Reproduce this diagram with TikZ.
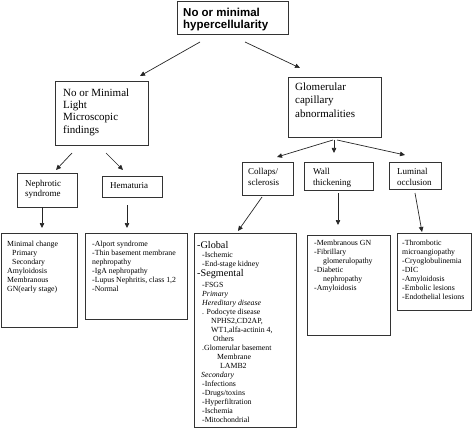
\documentclass[tikz,border=0pt]{standalone}
\usepackage{fontspec}
\setmainfont{Liberation Serif}
\newfontfamily\headsans{Liberation Sans}
\usetikzlibrary{arrows.meta}
\begin{document}
\begin{tikzpicture}[x=1pt,y=-1pt,
  box/.style={draw=black!80, line width=0.8pt, inner sep=0pt, anchor=north west},
  txt/.style={inner sep=0pt, anchor=north west, align=left, text=black},
  small/.style={txt, font=\fontsize{7.8}{9}\selectfont},
  mid/.style={txt, font=\fontsize{9}{11.5}\selectfont},
  big/.style={txt, font=\fontsize{11}{12.7}\selectfont},
  conn/.style={draw=black!85, line width=0.7pt, -{Triangle[length=5pt,width=4.5pt]}},
]
\useasboundingbox (0,0) rectangle (474,441);

% boxes
\node[box, minimum width=111, minimum height=33] (top) at (177,1) {};
\node[box, minimum width=93, minimum height=64] (lm) at (55,81) {};
\node[box, minimum width=93, minimum height=60] (gc) at (288,77) {};
\node[box, minimum width=60, minimum height=34] (ns) at (17,173) {};
\node[box, minimum width=60, minimum height=21] (hem) at (102,176) {};
\node[box, minimum width=51, minimum height=33] (cs) at (242,162) {};
\node[box, minimum width=69, minimum height=28] (wt) at (304,162) {};
\node[box, minimum width=52, minimum height=27] (lo) at (389,162) {};
\node[box, minimum width=76.5, minimum height=94] (b1) at (0.5,233) {};
\node[box, minimum width=102, minimum height=86] (b2) at (85,233) {};
\node[box, minimum width=102, minimum height=194] (b3) at (194,233) {};
\node[box, minimum width=83, minimum height=100] (b4) at (307,235) {};
\node[box, minimum width=74, minimum height=77] (b5) at (397,233) {};

% texts
\node[txt, font=\headsans\bfseries\fontsize{11.5}{12.5}\selectfont] (ttop) at (183,7.6) {No or minimal\\hypercellularity};
\node[big, font=\fontsize{11}{12.3}\selectfont] (tlm) at (63,88.3) {No or Minimal\\Light\\Microscopic\\findings};
\node[big, font=\fontsize{11}{13.5}\selectfont] (tgc) at (295,82.3) {Glomerular\\capillary\\abnormalities};
\node[mid, font=\fontsize{9}{10.8}\selectfont] (tns) at (25,179.7) {Nephrotic\\syndrome};
\node[mid] (them) at (110,182.7) {Hematuria};
\node[mid] (tcs) at (248,167.7) {Collaps/\\sclerosis};
\node[mid] (twt) at (313,167.7) {Wall\\thickening};
\node[mid] (tlo) at (397,167.7) {Luminal\\occlusion};

\node[small] (tb1) at (7,240.5) {Minimal change\\\hspace*{5pt}Primary\\\hspace*{5pt}Secondary\\Amyloidosis\\Membranous\\GN(early stage)};
\node[small] (tb2) at (92,240.5) {-Alport syndrome\\-Thin basement membrane\\nephropathy\\-IgA nephropathy\\-Lupus Nephritis, class 1,2\\-Normal};
\node[small] (tb4) at (314,239.5) {-Membranous GN\\-Fibrillary\\\hspace*{9pt}glomerulopathy\\-Diabetic\\\hspace*{9pt}nephropathy\\-Amyloidosis};
\node[small] (tb5) at (402,239.5) {-Thrombotic\\microangiopathy\\-Cryoglobulinemia\\-DIC\\-Amyloidosis\\-Embolic lesions\\-Endothelial lesions};
\node[small] (tb3) at (197,240.9) {{\fontsize{10.2}{9}\selectfont -Global}\\
\hspace*{5pt}-Ischemic\\
\hspace*{5pt}-End-stage kidney\\[1pt]
{\fontsize{10.2}{9}\selectfont -Segmental}\\[2pt]
\hspace*{5pt}-FSGS\\
\hspace*{5pt}\textit{Primary}\\
\hspace*{5pt}\textit{Hereditary disease}\\
\hspace*{5pt}. Podocyte disease\\
\hspace*{14pt}NPHS2,CD2AP,\\
\hspace*{14pt}WT1,alfa-actinin 4,\\
\hspace*{16pt}Others\\
\hspace*{5pt}.Glomerular basement\\
\hspace*{20pt}Membrane\\
\hspace*{23pt}LAMB2\\
\hspace*{4pt}\textit{Secondary}\\
\hspace*{5pt}-Infections\\
\hspace*{5pt}-Drugs/toxins\\
\hspace*{5pt}-Hyperfiltration\\
\hspace*{5pt}-Ischemia\\
\hspace*{5pt}-Mitochondrial};

% connector end points
\coordinate (s1) at (200,42);  \coordinate (e1) at (140,76);
\coordinate (s2) at (245,42);  \coordinate (e2) at (300,68);
\coordinate (s3) at (72,153);  \coordinate (e3) at (56,170);
\coordinate (s4) at (106,153); \coordinate (e4) at (123,170);
\coordinate (s5) at (42,207);  \coordinate (e5) at (42,228);
\coordinate (s6) at (127,205); \coordinate (e6) at (127,228);
\coordinate (s7) at (333,140); \coordinate (e7) at (277,157);
\coordinate (s8) at (334,140); \coordinate (e8) at (334,153);
\coordinate (s9) at (337,140); \coordinate (e9) at (405,155);
\coordinate (s10) at (262,197); \coordinate (e10) at (238,231);
\coordinate (s11) at (338,193); \coordinate (e11) at (338,225);
\coordinate (s12) at (415,193); \coordinate (e12) at (422,232);

\draw[conn] (s1) -- (e1);
\draw[conn] (s2) -- (e2);
\draw[conn] (s3) -- (e3);
\draw[conn] (s4) -- (e4);
\draw[conn] (s5) -- (e5);
\draw[conn] (s6) -- (e6);
\draw[conn] (s7) -- (e7);
\draw[conn] (s8) -- (e8);
\draw[conn] (s9) -- (e9);
\draw[conn] (s10) -- (e10);
\draw[conn] (s11) -- (e11);
\draw[conn] (s12) -- (e12);
\end{tikzpicture}
\end{document}
